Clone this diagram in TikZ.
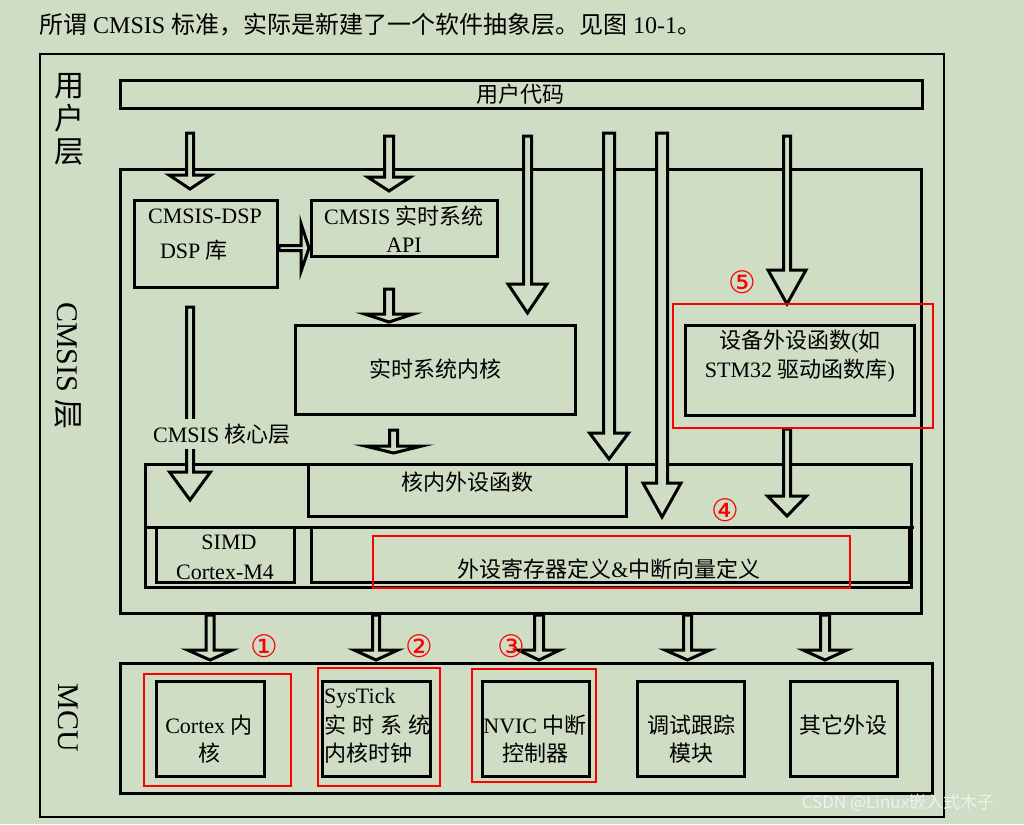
\documentclass[tikz,border=0pt]{standalone}
\usepackage{fontspec}
\setmainfont{Liberation Serif}
\newfontfamily\cjk{Noto Sans CJK SC}
\newfontfamily\symfont{DejaVu Sans}
\usetikzlibrary{fit}
\definecolor{paper}{RGB}{206,221,195}
\definecolor{mark}{RGB}{250,0,0}
\newcommand{\zh}[1]{{\cjk #1}}
% hollow block arrow: x, top, base of head, tip, half shaft, half head
\newcommand{\blockarrow}[6]{%
  \draw[hollow] (#1-#5,#2) -- (#1+#5,#2) -- (#1+#5,#3) -- (#1+#6,#3)
    -- (#1,#4) -- (#1-#6,#3) -- (#1-#5,#3) -- cycle;}
\tikzset{
  frame/.style={draw=black,line width=3pt,inner sep=0pt},
  redbox/.style={draw=mark,line width=2.8pt,inner sep=0pt},
  hollow/.style={draw=black,fill=paper,line width=3pt},
  txt/.style={font=\fontsize{22}{28}\selectfont,inner sep=0pt,align=center},
  side/.style={font=\fontsize{30}{33}\selectfont,inner sep=0pt},
  num/.style={font=\symfont\fontsize{31}{31}\selectfont,text=mark,inner sep=0pt}
}
\begin{document}
\begin{tikzpicture}[x=1pt,y=-1pt]
\fill[paper] (0,0) rectangle (1024,824);
\useasboundingbox (0,0) rectangle (1024,824);

\node[anchor=west,inner sep=0pt,font=\fontsize{24}{26}\selectfont] (title) at (39,25)
  {\zh{所谓} CMSIS \zh{标准，实际是新建了一个软件抽象层。见图} 10-1\zh{。}};

% frames
\node[draw,line width=1.5pt,inner sep=0pt,fit={(40,54) (944,817)}] (page) {};
\node[frame,fit={(120.5,80.5) (922.5,108.5)}] (usercode) {};
\node[frame,fit={(120.5,169.5) (921.5,613.5)}] (cmsis) {};
\node[frame,fit={(134.5,200.5) (277.5,287.5)}] (dsp) {};
\node[frame,fit={(311.5,200.5) (497,256.5)}] (api) {};
\node[frame,fit={(295.5,325.5) (575,414.5)}] (kernel) {};
\node[frame,fit={(685.5,325.5) (914.5,415)}] (driver) {};
\node[frame,fit={(145.5,464.5) (911.5,587.5)}] (core) {};
\draw[line width=3pt] (144,527.5) -- (914,527.5);
\node[frame,fit={(308.5,464.5) (626.5,516.5)}] (corefun) {};
\node[frame,fit={(156.5,527.5) (294.5,582.5)}] (simd) {};
\node[frame,fit={(311,527.5) (909,582.5)}] (regs) {};
\node[frame,fit={(120.5,663.5) (932.5,793.5)}] (mcu) {};
\node[frame,fit={(156.5,681.5) (264,776.5)}] (cortex) {};
\node[frame,fit={(322.5,681.5) (430.5,776.5)}] (systick) {};
\node[frame,fit={(482.5,681.5) (589.5,776.5)}] (nvic) {};
\node[frame,fit={(637.5,681.5) (744,776.5)}] (debug) {};
\node[frame,fit={(790.5,681.5) (897,776.5)}] (periph) {};

% block arrows
\blockarrow{190}{133}{175}{189}{3.5}{21}
\blockarrow{389}{136}{177}{191}{4.5}{21.5}
\blockarrow{527.5}{136}{284}{313}{4}{19.5}
\blockarrow{609}{133}{433}{459}{5.5}{19.5}
\blockarrow{662}{133}{483}{517}{5.5}{19}
\blockarrow{787}{136}{270}{304}{3.5}{19}
\blockarrow{787}{429}{496}{516}{3.5}{19.5}
\blockarrow{389}{289}{314}{322}{4.5}{24.5}
\blockarrow{393.5}{430}{446}{453}{4}{28.5}
\blockarrow{190}{307}{472}{500}{3.5}{20.5}
\draw[hollow] (279,245.5) -- (301,245.5) -- (301,223.5) -- (309,248)
  -- (301,271.5) -- (301,250.5) -- (279,250.5) -- cycle;
\foreach \ax/\sh/\hh in {210/4/22.5, 376/3.5/22, 539/4.5/21, 687.5/4/22.5, 825/4.5/22}
  \blockarrow{\ax}{615}{650}{660}{\sh}{\hh};

% red marks
\node[redbox,fit={(673,304) (933,428)}] (r5) {};
\node[redbox,fit={(373,536) (850,588)}] (r4) {};
\node[redbox,fit={(144,674) (291,786)}] (r1) {};
\node[redbox,fit={(318,668) (440,786)}] (r2) {};
\node[redbox,fit={(472,669) (596,782)}] (r3) {};
\node[num] (n1) at (264,646) {①};
\node[num] (n2) at (419,646) {②};
\node[num] (n3) at (511,646) {③};
\node[num] (n4) at (725,510) {④};
\node[num] (n5) at (742,282) {⑤};

% side labels
\node[side,font=\fontsize{30}{33}\selectfont\cjk,align=center] (userlbl) at (69,119) {用\\户\\层};
\node[side,rotate=-90] (cmsislbl) at (68,366) {CMSIS \zh{层}};
\node[side,rotate=-90] (mculbl) at (68,718) {MCU};

% texts
\node[txt] (t0) at (520,94) {\zh{用户代码}};
\node[txt] (t1) at (205,216) {CMSIS-DSP};
\node[txt] (t2) at (194,250) {DSP \zh{库}};
\node[txt] (t3) at (404,216) {CMSIS \zh{实时系统}};
\node[txt] (t4) at (404,245) {API};
\node[txt] (t5) at (435,369) {\zh{实时系统内核}};
\node[txt,fill=paper,inner sep=5pt] (t6) at (222,434) {CMSIS \zh{核心层}};
\node[txt] (t7) at (467,482) {\zh{核内外设函数}};
\node[txt] (t8) at (229,542) {SIMD};
\node[txt] (t9) at (225,572) {Cortex-M4};
\node[txt] (t10) at (609,569) {\zh{外设寄存器定义}\&\zh{中断向量定义}};
\node[txt] (t11) at (800,342) {\zh{设备外设函数}(\zh{如}};
\node[txt] (t12) at (800,371) {STM32 \zh{驱动函数库})};
\node[txt] (t13) at (209,739) {Cortex \zh{内}\\\zh{核}};
\node[txt,anchor=west] (t14) at (324,698) {SysTick};
\node[txt,anchor=west] (t15) at (324,725) {\zh{实\hspace{6pt}时\hspace{6pt}系\hspace{6pt}统}};
\node[txt,anchor=west] (t16) at (324,753) {\zh{内核时钟}};
\node[txt] (t17) at (535,739) {NVIC \zh{中断}\\\zh{控制器}};
\node[txt] (t18) at (691,739) {\zh{调试跟踪}\\\zh{模块}};
\node[txt] (t19) at (843,725) {\zh{其它外设}};
\node[inner sep=0pt,text=white!88!gray,font=\cjk\fontsize{17}{17}\selectfont] (wm) at (898,803) {CSDN @Linux嵌入式木子};
\end{tikzpicture}
\end{document}
